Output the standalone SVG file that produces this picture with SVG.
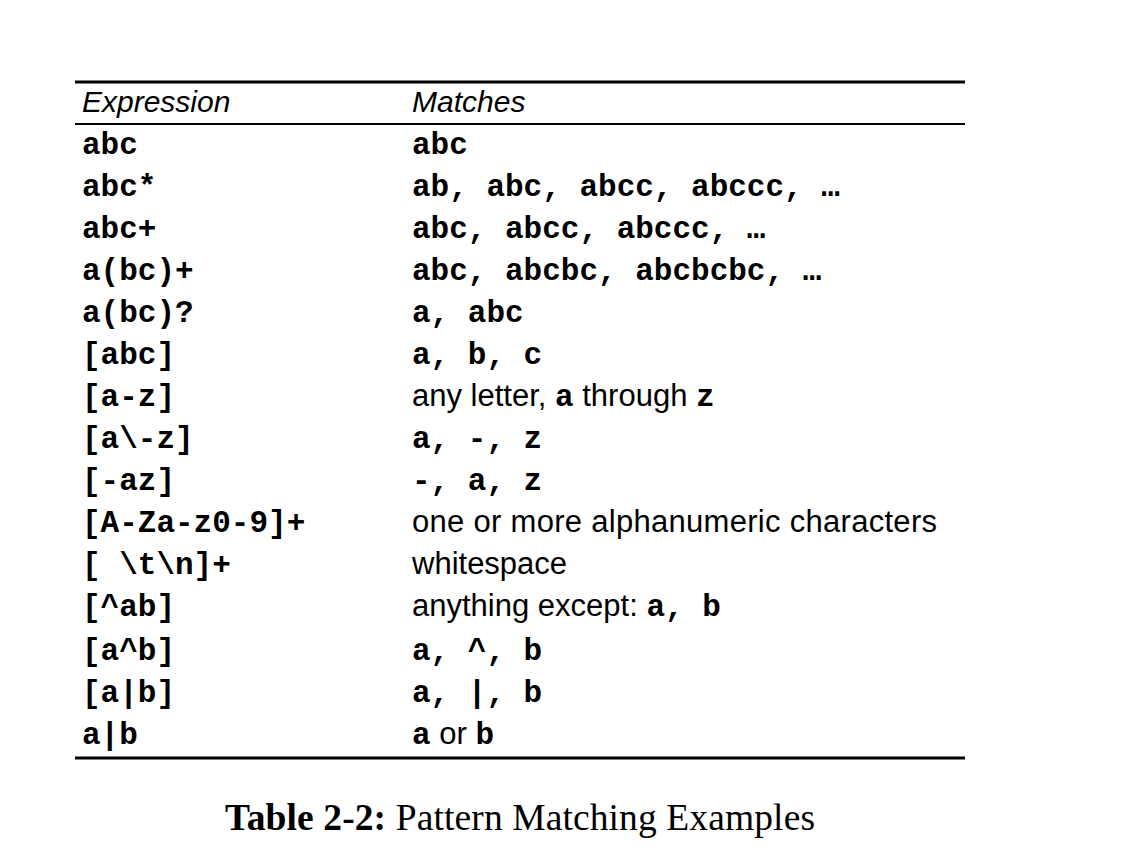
<svg xmlns="http://www.w3.org/2000/svg" width="1128" height="858" viewBox="0 0 1128 858">
<style>
.m{font-family:"Liberation Mono",monospace;font-weight:bold;font-size:31px;fill:#000}
.s{font-family:"Liberation Sans",Arial,sans-serif;font-size:31px;fill:#000}
.h{font-family:"Liberation Sans",Arial,sans-serif;font-size:30px;font-style:italic;fill:#000}
</style>
<rect width="1128" height="858" fill="#fff"/>
<line x1="75" y1="82" x2="965" y2="82" stroke="#000" stroke-width="3"/>
<line x1="75" y1="124" x2="965" y2="124" stroke="#000" stroke-width="2"/>
<line x1="75" y1="758" x2="965" y2="758" stroke="#000" stroke-width="3"/>
<text class="h" x="82" y="112">Expression</text>
<text class="h" x="412" y="112">Matches</text>
<g id="rows">
<text class="m" x="82" y="154">abc</text><text class="m" x="412" y="154">abc</text>
<text class="m" x="82" y="196">abc*</text><text class="m" x="412" y="196">ab, abc, abcc, abccc, …</text>
<text class="m" x="82" y="238">abc+</text><text class="m" x="412" y="238">abc, abcc, abccc, …</text>
<text class="m" x="82" y="280">a(bc)+</text><text class="m" x="412" y="280">abc, abcbc, abcbcbc, …</text>
<text class="m" x="82" y="322">a(bc)?</text><text class="m" x="412" y="322">a, abc</text>
<text class="m" x="82" y="364">[abc]</text><text class="m" x="412" y="364">a, b, c</text>
<text class="m" x="82" y="406">[a-z]</text><text class="s" x="412" y="406">any letter, <tspan class="m">a</tspan> through <tspan class="m">z</tspan></text>
<text class="m" x="82" y="448">[a\-z]</text><text class="m" x="412" y="448">a, -, z</text>
<text class="m" x="82" y="490">[-az]</text><text class="m" x="412" y="490">-, a, z</text>
<text class="m" x="82" y="532">[A-Za-z0-9]+</text><text class="s" x="412" y="532" textLength="525">one or more alphanumeric characters</text>
<text class="m" x="82" y="574" xml:space="preserve">[ \t\n]+</text><text class="s" x="412" y="574">whitespace</text>
<text class="m" x="82" y="616">[^ab]</text><text class="s" x="412" y="616">anything except: <tspan class="m">a, b</tspan></text>
<text class="m" x="82" y="660">[a^b]</text><text class="m" x="412" y="660">a, ^, b</text>
<text class="m" x="82" y="702">[a|b]</text><text class="m" x="412" y="702">a, |, b</text>
<text class="m" x="82" y="744">a|b</text><text class="s" x="412" y="744"><tspan class="m">a</tspan> or <tspan class="m">b</tspan></text>
</g>
<text x="225" y="830" font-family="Liberation Serif,serif" font-size="37.5" fill="#000" textLength="590"><tspan font-weight="bold">Table 2-2:</tspan> Pattern Matching Examples</text>
</svg>
